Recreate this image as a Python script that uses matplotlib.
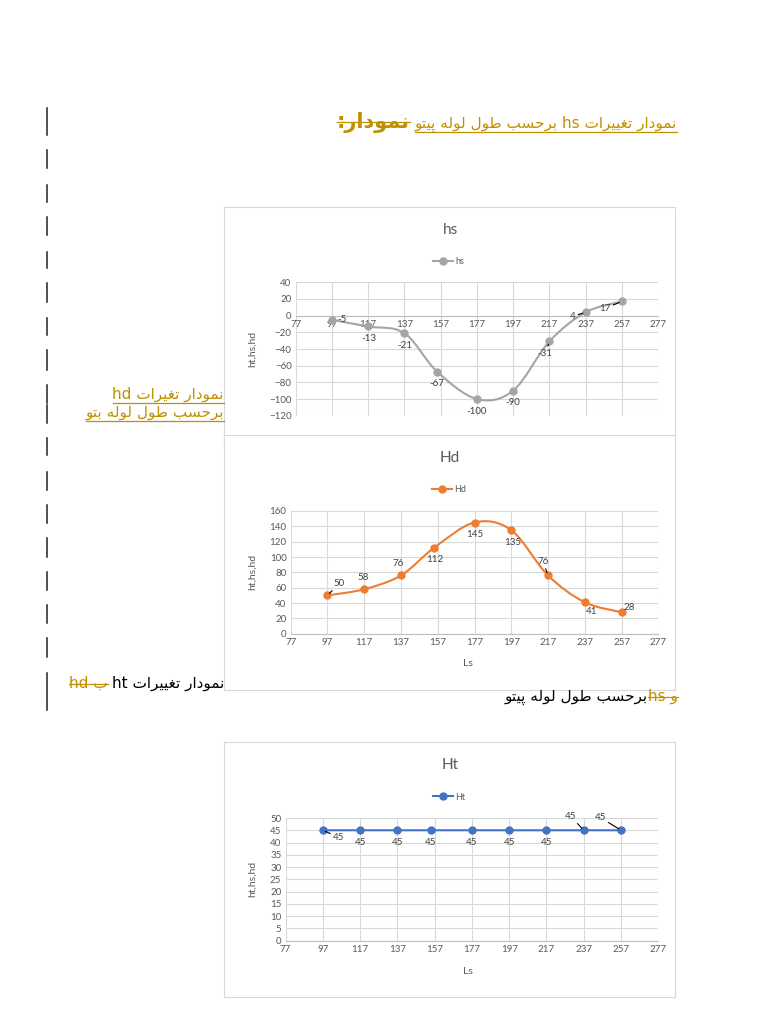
import re
import numpy as np
import matplotlib
matplotlib.use("Agg")
import matplotlib.pyplot as plt
from matplotlib.path import Path
from matplotlib.patches import PathPatch
from matplotlib.lines import Line2D

W, H = 768, 1024

# data
ls = [97, 117, 137, 155, 177, 197, 217, 237, 257]
hs = [-5, -13, -21, -67, -100, -90, -31, 4, 17]
hd = [50, 58, 76, 112, 145, 135, 76, 41, 28]
ht = [45, 45, 45, 45, 45, 45, 45, 45, 45]
x_ticks = list(range(77, 278, 20))
hs_ticks = list(range(-120, 41, 20))
hd_ticks = list(range(0, 161, 20))
ht_ticks = list(range(0, 51, 5))

GOLD = '#BF9000'
GRID = '#D9D9D9'
TXT = '#595959'

# arabic letters -> (isolated, final, initial, medial)
FORMS = {
    'ا': ('\uFE8D', '\uFE8E', None, None),
    'ب': ('\uFE8F', '\uFE90', '\uFE91', '\uFE92'),
    'پ': ('\uFB56', '\uFB57', '\uFB58', '\uFB59'),
    'ت': ('\uFE95', '\uFE96', '\uFE97', '\uFE98'),
    'ح': ('\uFEA1', '\uFEA2', '\uFEA3', '\uFEA4'),
    'د': ('\uFEA9', '\uFEAA', None, None),
    'ر': ('\uFEAD', '\uFEAE', None, None),
    'س': ('\uFEB1', '\uFEB2', '\uFEB3', '\uFEB4'),
    'ط': ('\uFEC1', '\uFEC2', '\uFEC3', '\uFEC4'),
    'غ': ('\uFECD', '\uFECE', '\uFECF', '\uFED0'),
    'ل': ('\uFEDD', '\uFEDE', '\uFEDF', '\uFEE0'),
    'م': ('\uFEE1', '\uFEE2', '\uFEE3', '\uFEE4'),
    'ن': ('\uFEE5', '\uFEE6', '\uFEE7', '\uFEE8'),
    'ه': ('\uFEE9', '\uFEEA', '\uFEEB', '\uFEEC'),
    'و': ('\uFEED', '\uFEEE', None, None),
    'ی': ('\uFBFC', '\uFBFD', '\uFEF3', '\uFEF4'),
}


def shape(s):
    # join letters, then lay out right to left, keeping latin runs as they are
    out = []
    for i, ch in enumerate(s):
        if ch not in FORMS:
            out.append(ch)
            continue
        prev = s[i - 1] if i > 0 else ''
        nxt = s[i + 1] if i + 1 < len(s) else ''
        p = prev in FORMS and FORMS[prev][2] is not None
        n = FORMS[ch][2] is not None and nxt in FORMS
        iso, fin, ini, med = FORMS[ch]
        out.append(med if (p and n) else fin if p else ini if n else iso)
    vis = ''.join(out)[::-1]
    return re.sub(r'[A-Za-z0-9]+', lambda m: m.group(0)[::-1], vis)


fig = plt.figure(figsize=(W / 100, H / 100), dpi=100)
fig.patch.set_facecolor('white')
deco = []


def fa_text(x, y, s, color, size=11, weight='normal', under=False, strike=False):
    t = fig.text(x / W, 1 - y / H, shape(s), ha='right', va='baseline',
                 color=color, fontsize=size, fontweight=weight,
                 family='DejaVu Sans', zorder=3)
    deco.append((t, y, size, under, strike, color))
    return t


def box(l, t, r, b):
    return [l / W, 1 - b / H, (r - l) / W, (b - t) / H]


def smooth_path(x, y):
    pts = np.column_stack([x, y]).astype(float)
    ext = np.vstack([pts[0], pts, pts[-1]])
    verts = [pts[0]]
    codes = [Path.MOVETO]
    for i in range(len(pts) - 1):
        p0, p1, p2, p3 = ext[i], ext[i + 1], ext[i + 2], ext[i + 3]
        verts += [p1 + (p2 - p0) / 6, p2 - (p3 - p1) / 6, p2]
        codes += [Path.CURVE4] * 3
    return Path(verts, codes)


def chart(frame, plot, vals, name, color, yticks, offsets, leaders, z,
          title_y, legend_y, ls_y, cross_zero=False):
    fa = fig.add_axes(box(*frame))
    fa.set_xticks([])
    fa.set_yticks([])
    for sp in fa.spines.values():
        sp.set_color(GRID)
        sp.set_linewidth(0.8)
    fa.set_zorder(z)
    fa.text(450 / W, 1 - title_y / H, name, transform=fig.transFigure,
            ha='center', va='center', fontsize=11, color=TXT, family='Lato')
    fa.text(252 / W, 1 - (plot[1] + plot[3]) / 2 / H, 'ht,hs,hd',
            transform=fig.transFigure, rotation=90, ha='center', va='center',
            fontsize=7.5, color=TXT, family='Lato')
    fa.text(468 / W, 1 - ls_y / H, 'Ls', transform=fig.transFigure,
            ha='center', va='center', fontsize=7.5, color=TXT, family='Lato')

    ax = fig.add_axes(box(*plot))
    ax.set_zorder(z + 0.5)
    ax.set_facecolor('none')
    ax.set_xlim(77, 277)
    ax.set_ylim(yticks[0], yticks[-1])
    ax.set_xticks(x_ticks)
    ax.set_yticks(yticks)
    ax.grid(True, color=GRID, lw=0.8)
    ax.set_axisbelow(True)
    for k in ['top', 'right', 'left']:
        ax.spines[k].set_visible(False)
    ax.spines['bottom'].set_color('#BFBFBF')
    if cross_zero:
        ax.spines['bottom'].set_position(('data', 0))
    ax.tick_params(length=0, labelsize=7, labelcolor=TXT, pad=3)
    for lab in ax.get_xticklabels() + ax.get_yticklabels():
        lab.set_family('Lato')

    ax.add_patch(PathPatch(smooth_path(ls, vals), fill=False, ec=color,
                           lw=1.5, zorder=3, capstyle='round'))
    ax.plot(ls, vals, ls='none', marker='o', ms=5, color=color, zorder=4)
    h = Line2D([], [], color=color, lw=1.5, marker='o', ms=5)
    leg = ax.legend([h], [name], loc='center', frameon=False,
                    bbox_to_anchor=(449 / W, 1 - legend_y / H),
                    bbox_transform=fig.transFigure, handlelength=2.2,
                    handletextpad=0.3, prop={'family': 'Lato', 'size': 6.5})
    for t in leg.get_texts():
        t.set_color(TXT)

    for xi, yi, (dx, dy), lead in zip(ls, vals, offsets, leaders):
        arrow = dict(arrowstyle='-', color='black', lw=0.8,
                     shrinkA=0, shrinkB=2) if lead else None
        ax.annotate(str(yi), (xi, yi), xytext=(dx * 0.72, -dy * 0.72),
                    textcoords='offset points', ha='center', va='center',
                    fontsize=7, color='#404040', family='Lato',
                    arrowprops=arrow, zorder=5)
    return ax


hs_off = [(10, 0), (1, 12), (1, 12), (0, 12), (0, 12), (0, 12), (-4, 12), (-13, 4), (-17, 7)]
hs_lead = [False, False, False, False, False, False, True, True, True]
hd_off = [(12, -12), (-1, -12), (-3, -12), (1, 12), (0, 12), (1, 12), (-5, -14), (7, 9), (8, -5)]
hd_lead = [True, False, False, False, False, False, True, False, False]
ht_off = [(16, 7), (0, 12), (0, 12), (0, 12), (0, 12), (0, 12), (0, 12), (-13, -14), (-21, -13)]
ht_lead = [True, False, False, False, False, False, False, True, True]

chart((224, 207, 675, 447), (295.7, 282.3, 658, 415.7), hs, 'hs', '#A5A5A5',
      hs_ticks, hs_off, hs_lead, 1, 230, 262, 441, cross_zero=True)
chart((224, 435, 675, 690), (290.7, 511, 658.3, 633.7), hd, 'Hd', '#ED7D31',
      hd_ticks, hd_off, hd_lead, 2, 458, 490, 664)
chart((224, 742, 675, 997), (285.5, 818, 658.3, 940.7), ht, 'Ht', '#4472C4',
      ht_ticks, ht_off, ht_lead, 5, 765, 797, 971)

# revision bars down the left margin
bars = [(108, 135), (150, 168), (185, 202), (217, 235), (252, 268), (283, 302),
        (318, 335), (350, 370), (385, 403), (405, 423), (438, 455), (472, 490),
        (505, 523), (538, 557), (572, 590), (605, 623), (638, 657), (673, 710)]
for y0, y1 in bars:
    fig.add_artist(Line2D([47 / W, 47 / W], [1 - y0 / H, 1 - y1 / H],
                          color='#222222', lw=1.1))

# persian text around the charts
fa_text(677, 128, 'نمودار تغییرات hs برحسب طول لوله پیتو', GOLD, under=True)
fa_text(224, 399, 'نمودار تغیرات hd', GOLD, under=True)
fa_text(224, 417, 'برحسب طول لوله بتو', GOLD, under=True)
t3 = fa_text(224, 688, 'نمودار تغییرات ht', 'black')
t4 = fa_text(678, 701, 'و hs', GOLD, strike=True)

r = fig.canvas.get_renderer()
t1 = deco[0][0]
fa_text(t1.get_window_extent(r).x0 - 5, 128, 'نمودار:', GOLD, size=15,
        weight='bold', strike=True)
fa_text(t3.get_window_extent(r).x0 - 4, 688, 'ب hd', GOLD, strike=True)
fa_text(t4.get_window_extent(r).x0, 701, 'برحسب طول لوله پیتو', 'black')

for t, y, size, under, strike, color in deco:
    bb = t.get_window_extent(r)
    base = H - y
    if under:
        fig.add_artist(Line2D([bb.x0 / W, bb.x1 / W], [(base - 4) / H] * 2,
                              color=color, lw=0.9))
    if strike:
        ys = base + 0.28 * size * 1.39
        fig.add_artist(Line2D([bb.x0 / W, bb.x1 / W], [ys / H] * 2,
                              color=color, lw=0.9))

fig.savefig('out.png', dpi=100, facecolor='white')
